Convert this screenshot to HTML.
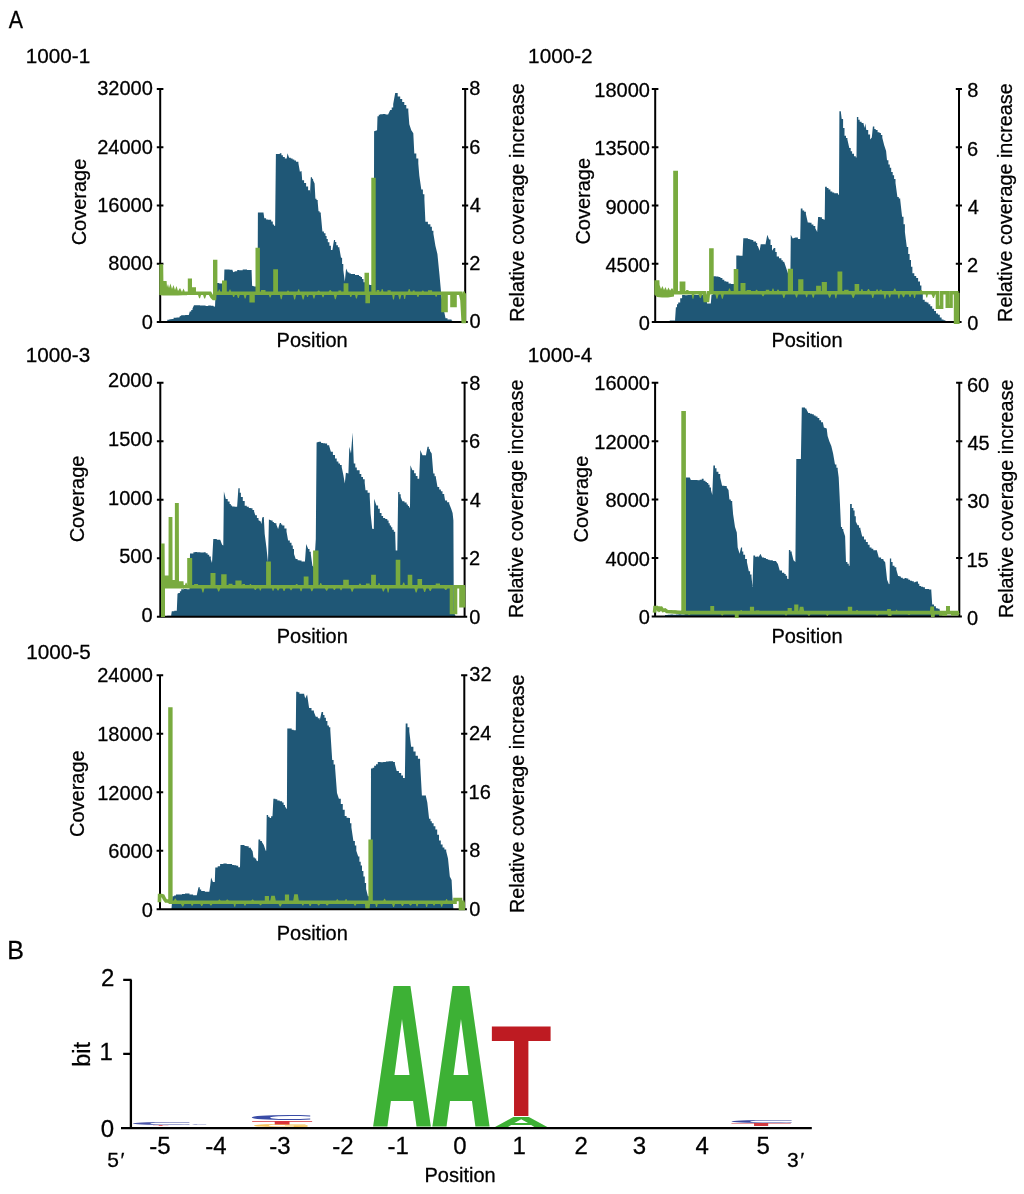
<!DOCTYPE html>
<html><head><meta charset="utf-8"><title>Coverage figure</title>
<style>
html,body{margin:0;padding:0;background:#fff;}
body{width:1024px;height:1194px;overflow:hidden;}
svg{display:block;}
text{font-family:"Liberation Sans",Arial,Helvetica,sans-serif;fill:#000;stroke:#000;stroke-width:0.28px;}
</style></head><body>
<svg width="1024" height="1194" viewBox="0 0 1024 1194">
<rect width="1024" height="1194" fill="#fff"/>
<path d="M164.5,322.1 L165.2,321.4 L167.3,321.4 L167.3,319.8 L169.4,319.8 L169.4,319.3 L171.5,319.3 L171.5,319.0 L173.6,319.0 L173.6,317.8 L176.5,317.8 L176.5,317.5 L179.4,317.5 L179.4,316.7 L181.5,315.2 L185.2,315.2 L185.2,314.9 L188.8,314.9 L188.8,315.0 L189.8,311.5 L191.2,311.5 L191.2,309.9 L192.5,309.9 L192.5,308.4 L194.0,305.2 L197.0,305.2 L197.0,305.3 L200.0,305.3 L200.0,305.5 L203.0,305.5 L203.0,305.5 L205.6,305.5 L205.6,305.9 L208.2,305.9 L208.2,305.6 L210.8,305.6 L210.8,305.7 L213.4,305.7 L213.4,306.3 L215.0,306.8 L215.5,295.3 L216.5,283.0 L219.2,283.0 L219.2,283.5 L221.8,283.5 L221.8,283.5 L224.0,284.0 L224.4,269.6 L227.0,269.6 L227.0,269.5 L229.6,269.5 L229.6,269.8 L232.2,269.8 L232.2,269.6 L233.3,272.2 L235.4,271.2 L237.2,271.2 L237.2,270.1 L239.1,270.1 L239.1,270.3 L240.9,270.3 L240.9,270.3 L242.7,270.3 L242.7,269.6 L247.0,269.6 L247.0,270.0 L251.6,270.0 L251.6,271.2 L252.1,285.8 L254.7,286.4 L257.6,286.4 L257.9,212.6 L260.7,212.6 L260.7,212.5 L263.5,212.5 L263.5,212.8 L264.3,218.2 L266.1,218.2 L266.1,219.4 L267.9,219.4 L267.9,219.8 L269.7,219.8 L269.7,219.8 L271.2,219.8 L271.2,221.4 L272.8,221.4 L272.8,224.4 L274.0,224.4 L274.0,225.7 L275.1,225.7 L275.1,228.3 L275.9,153.9 L279.8,153.9 L279.8,153.2 L281.4,153.2 L281.4,155.2 L282.9,155.2 L282.9,157.0 L284.8,157.0 L284.8,158.4 L286.7,158.4 L286.7,158.6 L287.5,153.2 L289.1,157.8 L290.8,157.8 L290.8,158.6 L292.6,158.6 L292.6,159.4 L294.3,159.4 L294.3,160.6 L296.0,160.6 L296.0,161.7 L297.2,161.7 L297.2,161.8 L298.4,161.8 L298.4,163.2 L299.9,171.7 L301.5,171.0 L302.2,180.3 L304.1,180.3 L304.1,183.0 L306.1,183.0 L306.1,186.5 L308.1,186.5 L308.1,190.3 L310.0,190.3 L310.0,194.2 L310.8,177.2 L312.0,177.2 L312.0,178.7 L313.1,178.7 L313.1,180.3 L314.6,183.4 L315.4,198.8 L316.5,198.8 L316.5,200.0 L317.7,200.0 L317.7,202.0 L318.5,211.2 L319.6,211.2 L319.6,212.4 L320.8,212.4 L320.8,214.3 L322.4,231.4 L323.9,231.4 L323.9,233.3 L325.5,233.3 L325.5,236.0 L326.6,236.0 L326.6,239.0 L327.8,239.0 L327.8,242.2 L329.4,242.2 L329.4,245.8 L330.9,245.8 L330.9,250.0 L332.4,250.0 L334.0,239.9 L335.1,239.9 L335.1,241.9 L336.3,241.9 L336.3,245.3 L337.9,245.3 L337.9,247.3 L339.4,247.3 L339.4,248.4 L341.0,257.7 L342.1,257.7 L342.1,264.0 L343.3,264.0 L343.3,270.1 L344.8,281.7 L346.1,268.5 L347.9,272.4 L349.4,272.4 L349.4,273.4 L351.0,273.4 L351.0,274.0 L355.0,274.0 L355.0,275.0 L359.0,275.0 L359.0,276.0 L360.5,276.0 L360.5,277.1 L362.0,277.1 L362.0,279.0 L363.5,279.0 L363.5,282.2 L365.0,282.2 L365.0,284.0 L367.5,284.0 L367.5,284.8 L370.0,284.8 L370.0,285.0 L373.8,285.0 L373.8,285.0 L374.1,131.2 L377.1,130.2 L377.5,116.2 L378.8,116.2 L378.8,114.7 L380.1,114.7 L380.1,114.2 L382.8,114.2 L382.8,114.1 L385.5,114.1 L385.5,114.4 L388.2,114.4 L388.2,114.2 L390.2,110.1 L391.7,110.1 L391.7,107.4 L393.2,107.4 L393.2,104.1 L395.2,93.0 L397.7,93.0 L397.7,96.6 L400.2,96.6 L400.2,99.0 L402.2,99.0 L402.2,101.9 L404.3,101.9 L404.3,105.1 L406.3,105.1 L406.3,108.6 L408.3,108.6 L408.3,111.1 L409.3,124.2 L411.3,130.2 L413.3,133.3 L414.3,153.4 L416.3,153.4 L416.3,158.6 L418.3,158.6 L418.3,163.4 L419.3,175.5 L421.3,189.5 L422.9,189.5 L422.9,194.3 L424.4,194.3 L424.4,199.6 L425.4,221.7 L427.9,221.7 L427.9,224.3 L430.4,224.3 L430.4,226.7 L431.9,226.7 L431.9,230.8 L433.4,230.8 L433.4,233.8 L435.4,245.8 L437.4,253.9 L439.4,274.0 L441.4,296.1 L443.5,308.2 L445.5,318.2 L447.5,318.2 L447.5,319.4 L449.5,319.4 L449.5,319.5 L451.5,319.5 L451.5,320.2 L453.5,321.8 L454.0,322.1 Z" fill="#1f5776"/>
<path d="M661.0,322.0 L662.7,321.2 L666.2,321.2 L666.2,321.2 L669.7,321.2 L669.7,320.4 L672.4,320.4 L672.4,320.4 L675.1,320.4 L675.1,319.6 L675.9,307.3 L677.0,307.3 L677.0,304.3 L678.2,304.3 L678.2,302.6 L680.2,302.6 L680.2,298.2 L682.1,298.2 L682.1,294.9 L684.8,294.9 L684.8,295.2 L687.5,295.2 L687.5,295.1 L690.2,295.1 L690.2,295.1 L692.9,295.1 L692.9,294.8 L695.7,294.8 L695.7,295.0 L698.4,295.0 L698.4,295.1 L701.1,295.1 L701.1,295.0 L703.8,295.0 L703.8,294.7 L706.5,294.7 L706.5,295.0 L707.0,303.5 L710.8,303.5 L710.8,303.5 L711.5,295.0 L712.6,295.0 L713.1,276.3 L715.8,276.3 L715.8,276.6 L718.5,276.6 L718.5,277.1 L720.4,277.1 L720.4,278.1 L722.4,278.1 L722.4,279.7 L724.3,279.7 L724.3,281.2 L726.2,281.2 L726.2,281.7 L728.5,281.7 L728.5,283.5 L730.9,283.5 L730.9,284.0 L734.0,284.0 L734.0,284.8 L735.1,284.8 L735.1,270.2 L736.3,270.2 L736.3,255.4 L739.4,255.4 L739.4,255.8 L742.5,255.8 L742.5,256.2 L743.3,238.3 L747.9,238.3 L747.9,239.1 L749.7,239.1 L749.7,239.5 L751.5,239.5 L751.5,240.0 L753.3,240.0 L753.3,241.4 L755.0,241.4 L756.1,241.4 L756.1,243.1 L757.2,243.1 L757.2,246.1 L757.8,246.1 L759.7,250.8 L760.7,244.2 L765.4,244.2 L765.4,245.1 L767.3,234.8 L769.1,239.5 L770.5,239.5 L770.5,245.1 L772.0,245.1 L772.0,250.8 L773.9,248.0 L775.3,248.0 L775.3,252.0 L776.7,252.0 L776.7,256.5 L779.0,256.5 L779.0,258.2 L781.4,258.2 L781.4,260.2 L782.8,260.2 L782.8,261.7 L784.2,261.7 L784.2,262.1 L786.1,267.8 L788.0,273.4 L790.4,273.4 L790.8,234.8 L792.7,238.5 L795.5,237.6 L797.9,237.6 L797.9,239.0 L800.2,239.0 L800.2,240.4 L800.8,208.4 L802.5,208.4 L802.5,210.4 L804.2,210.4 L804.2,211.8 L805.9,211.8 L805.9,214.0 L807.8,222.5 L809.6,222.5 L809.6,222.8 L811.5,222.8 L811.5,224.4 L813.4,224.4 L813.4,226.1 L815.3,226.1 L815.3,228.2 L817.2,232.0 L818.1,216.9 L820.0,216.9 L820.0,217.3 L821.9,217.3 L821.9,218.8 L824.7,219.7 L825.1,186.7 L826.8,186.7 L826.8,188.1 L828.5,188.1 L828.5,189.5 L830.4,189.5 L830.4,191.6 L832.3,191.6 L832.3,192.4 L834.2,192.4 L834.2,193.3 L836.1,193.3 L836.1,193.2 L838.0,193.2 L838.0,194.3 L839.0,195.0 L839.4,111.3 L840.8,111.3 L841.7,118.9 L843.1,118.9 L843.1,127.9 L844.5,127.9 L844.5,135.8 L846.0,135.8 L846.0,138.1 L847.4,138.1 L847.4,139.6 L849.3,148.1 L850.7,148.1 L850.7,151.2 L852.1,151.2 L852.1,153.7 L854.0,153.7 L854.0,156.2 L855.8,156.2 L855.8,157.5 L856.5,157.5 L856.9,117.0 L858.3,117.0 L858.3,119.7 L859.7,119.7 L859.7,121.7 L861.6,121.7 L861.6,123.0 L863.5,123.0 L863.5,123.5 L864.5,128.0 L865.3,123.5 L866.3,130.1 L868.2,130.1 L868.2,134.6 L870.1,134.6 L870.1,139.6 L871.8,137.5 L872.9,126.4 L874.3,126.4 L874.3,128.9 L875.7,128.9 L875.7,130.1 L877.6,130.1 L877.6,132.2 L879.5,132.2 L879.5,133.0 L880.9,133.0 L880.9,134.9 L882.3,134.9 L882.3,137.7 L884.2,145.2 L886.1,150.9 L887.0,160.3 L888.4,160.3 L888.4,164.4 L889.8,164.4 L889.8,167.8 L891.2,167.8 L891.2,171.9 L892.7,171.9 L892.7,175.3 L894.1,175.3 L894.1,179.0 L895.5,179.0 L895.5,182.9 L897.4,197.0 L898.8,197.0 L898.8,198.4 L900.2,198.4 L900.2,199.8 L902.1,216.8 L903.5,216.8 L903.5,224.3 L904.9,224.3 L904.9,231.9 L906.8,246.9 L908.2,246.9 L908.2,254.1 L909.6,254.1 L909.6,260.1 L911.0,260.1 L911.0,266.7 L912.4,266.7 L912.4,273.3 L914.3,273.3 L914.3,276.1 L916.2,276.1 L916.2,278.0 L918.1,278.0 L918.1,281.5 L920.0,281.5 L920.0,285.5 L921.4,285.5 L921.4,293.1 L922.8,293.1 L922.8,299.7 L924.7,299.7 L924.7,301.7 L926.6,301.7 L926.6,302.5 L928.5,302.5 L928.5,304.3 L930.3,304.3 L930.3,306.3 L932.2,306.3 L932.2,308.7 L934.1,308.7 L934.1,311.0 L936.0,311.0 L936.0,313.4 L937.9,313.4 L937.9,314.7 L939.8,314.7 L939.8,317.4 L941.6,317.4 L941.6,319.4 L943.5,319.4 L943.5,320.3 L945.4,320.3 L945.4,321.3 L947.0,322.0 Z" fill="#1f5776"/>
<path d="M165.5,616.9 L167.4,615.7 L171.2,615.7 L171.2,615.1 L171.8,611.3 L174.3,611.3 L174.3,610.8 L176.8,610.8 L176.8,610.7 L177.5,593.7 L178.7,593.1 L179.9,593.1 L179.9,591.3 L181.2,591.3 L181.2,589.3 L184.0,589.3 L184.0,589.1 L186.7,589.1 L186.7,589.2 L189.5,589.2 L189.5,589.0 L190.0,553.5 L191.7,553.5 L191.7,553.4 L193.4,553.4 L193.4,552.3 L195.2,552.3 L195.2,551.9 L196.9,551.9 L196.9,552.3 L200.4,552.3 L200.4,552.6 L203.8,552.6 L203.8,552.3 L205.7,552.3 L205.7,553.2 L207.6,553.2 L207.6,554.8 L209.2,554.8 L209.2,556.6 L210.8,556.6 L210.8,559.2 L212.0,562.9 L213.3,539.1 L216.8,539.1 L216.8,539.8 L220.2,539.8 L220.2,539.7 L222.1,544.7 L223.3,545.4 L223.9,491.4 L225.8,498.9 L227.7,498.9 L227.7,501.4 L229.6,501.4 L229.6,503.9 L230.8,503.9 L230.8,505.6 L232.1,505.6 L232.1,506.4 L234.6,506.4 L234.6,506.7 L237.1,506.7 L237.1,507.0 L238.4,488.2 L239.7,488.2 L239.7,492.8 L240.9,492.8 L240.9,497.0 L242.8,497.0 L242.8,500.9 L244.7,500.9 L244.7,505.8 L246.8,505.8 L246.8,506.8 L248.8,506.8 L248.8,508.0 L250.9,508.0 L250.9,508.3 L252.5,508.3 L252.5,509.9 L254.1,509.9 L254.1,511.4 L255.3,515.2 L256.9,515.2 L256.9,518.0 L258.5,518.0 L258.5,520.2 L260.5,521.3 L261.5,524.0 L262.2,517.7 L263.0,517.1 L263.8,517.1 L264.7,533.9 L266.4,547.3 L268.0,562.4 L268.9,519.6 L271.4,520.5 L272.6,520.5 L272.6,522.0 L273.9,522.0 L273.9,523.0 L275.1,523.0 L275.1,523.2 L276.4,523.2 L276.4,524.7 L278.1,528.9 L279.8,523.0 L281.1,523.0 L281.1,524.6 L282.3,524.6 L282.3,525.5 L284.4,525.5 L284.4,528.6 L286.5,528.6 L286.5,531.4 L288.1,540.6 L289.8,540.6 L289.8,542.8 L291.5,542.8 L291.5,545.6 L292.8,545.6 L292.8,549.1 L294.0,549.1 L294.0,554.0 L295.7,559.0 L297.6,559.0 L297.6,560.3 L299.6,560.3 L299.6,560.6 L301.5,560.6 L301.5,561.5 L304.9,561.5 L304.9,562.4 L306.2,543.9 L308.2,549.0 L309.5,549.0 L309.5,551.8 L310.8,551.8 L310.8,554.0 L312.4,565.7 L314.1,567.4 L315.8,538.9 L316.6,442.6 L319.1,441.8 L321.1,441.8 L321.1,442.9 L323.0,442.9 L323.0,443.2 L325.0,443.2 L325.0,443.4 L327.1,443.4 L327.1,445.3 L329.2,445.3 L329.2,446.0 L330.9,451.8 L332.9,451.8 L332.9,455.0 L335.0,455.0 L335.0,458.5 L336.7,458.5 L336.7,461.4 L338.4,461.4 L338.4,463.5 L340.0,463.5 L340.0,465.1 L341.7,465.1 L341.7,466.9 L343.4,475.3 L344.8,483.6 L345.9,472.8 L348.4,473.6 L349.3,446.8 L351.0,453.5 L352.6,432.6 L353.8,463.5 L355.3,463.5 L355.3,467.5 L356.8,467.5 L356.8,470.2 L358.0,470.2 L359.6,470.2 L359.6,474.1 L361.3,474.1 L361.3,476.9 L363.0,476.9 L363.0,479.3 L364.7,479.3 L364.7,482.8 L365.5,490.3 L367.6,490.3 L367.6,492.7 L369.7,492.7 L369.7,496.2 L370.6,513.8 L372.2,528.8 L373.8,529.0 L374.2,498.7 L376.4,505.4 L378.1,505.4 L378.1,508.8 L379.8,508.8 L379.8,512.9 L381.5,512.9 L381.5,516.1 L383.1,516.1 L383.1,517.9 L385.2,517.9 L385.2,519.1 L387.3,519.1 L387.3,520.5 L388.6,520.5 L388.6,523.2 L389.8,523.2 L389.8,525.5 L391.1,525.5 L391.1,527.3 L392.3,527.3 L392.3,529.7 L393.8,529.7 L393.8,531.8 L395.2,531.8 L395.2,533.8 L395.7,550.6 L397.3,550.6 L398.2,492.0 L399.4,492.0 L399.4,494.3 L400.7,494.3 L400.7,497.0 L402.4,501.2 L404.5,501.2 L404.5,502.6 L406.6,502.6 L406.6,504.5 L407.9,504.5 L407.9,505.9 L409.1,505.9 L409.1,507.1 L410.0,508.0 L410.4,465.2 L412.4,470.2 L414.1,470.2 L414.1,473.3 L415.8,473.3 L415.8,476.1 L417.5,476.1 L417.5,478.8 L419.1,478.8 L419.1,480.3 L420.3,450.1 L422.5,455.2 L425.8,455.2 L425.8,456.0 L427.5,446.8 L428.8,446.8 L428.8,449.2 L430.0,449.2 L430.0,451.0 L431.7,453.5 L433.3,473.6 L434.6,473.6 L434.6,476.3 L435.9,476.3 L435.9,477.8 L437.5,487.0 L439.2,487.0 L439.2,489.6 L440.9,489.6 L440.9,491.2 L442.5,491.2 L442.5,493.9 L444.2,493.9 L444.2,495.3 L445.1,500.4 L447.1,500.4 L447.1,502.3 L449.2,502.3 L449.2,503.7 L450.9,507.9 L452.6,512.9 L453.4,520.5 L453.8,612.5 L455.1,615.0 L456.0,616.9 Z" fill="#1f5776"/>
<path d="M665.0,616.5 L665.0,615.0 L667.7,615.0 L667.7,614.7 L670.4,614.7 L670.4,614.5 L673.1,614.5 L673.1,614.7 L675.9,614.7 L675.9,614.4 L678.6,614.4 L678.6,614.3 L681.3,614.3 L681.3,614.5 L684.0,614.5 L684.0,614.5 L685.5,614.0 L685.8,477.4 L689.8,477.4 L689.8,477.4 L690.8,480.1 L695.4,480.1 L695.4,480.1 L697.5,480.1 L697.5,480.3 L699.7,480.3 L699.7,479.7 L701.8,479.7 L701.8,478.8 L703.6,478.8 L703.6,480.8 L705.5,480.8 L705.5,482.0 L706.9,482.0 L706.9,483.0 L708.3,483.0 L708.3,484.7 L709.6,484.7 L709.6,487.6 L711.0,487.6 L711.0,490.3 L712.3,494.9 L713.4,465.4 L715.0,465.4 L715.0,468.3 L716.5,468.3 L716.5,471.8 L718.4,471.8 L718.4,474.1 L720.2,474.1 L720.2,477.4 L722.1,485.7 L724.4,485.7 L724.4,486.0 L726.7,486.0 L726.7,487.5 L728.5,490.0 L729.4,499.5 L730.8,499.5 L730.8,500.9 L732.2,500.9 L732.2,503.1 L733.1,514.2 L735.0,527.1 L736.8,532.6 L737.7,547.4 L739.6,553.8 L741.0,547.4 L742.1,547.4 L742.1,551.6 L743.3,551.6 L743.3,554.7 L745.1,554.7 L745.1,558.9 L746.9,558.9 L746.9,562.1 L748.8,571.3 L750.1,571.3 L750.1,574.5 L751.5,574.5 L751.5,576.8 L752.5,587.0 L753.4,555.6 L755.1,555.6 L755.1,556.7 L756.8,556.7 L756.8,556.4 L758.5,556.4 L758.5,557.5 L760.4,553.8 L762.2,557.5 L764.1,557.5 L764.1,557.9 L765.9,557.9 L765.9,559.0 L767.8,559.0 L767.8,559.8 L769.6,559.8 L769.6,560.2 L772.8,560.2 L772.8,561.0 L776.0,561.0 L776.0,561.2 L777.9,563.9 L779.7,570.4 L782.0,570.4 L782.0,572.8 L784.3,572.8 L784.3,574.1 L785.7,574.1 L785.7,575.8 L787.1,575.8 L787.1,578.7 L788.5,579.0 L788.9,550.1 L790.3,550.1 L790.3,551.6 L791.7,551.6 L791.7,552.9 L793.5,560.2 L795.4,562.1 L796.3,458.9 L800.9,458.9 L800.9,458.9 L801.8,407.4 L803.7,407.4 L805.0,407.4 L805.0,408.5 L806.4,408.5 L806.4,409.2 L808.3,412.9 L810.1,412.9 L810.1,413.8 L812.0,413.8 L812.0,414.3 L813.8,414.3 L813.8,415.6 L815.6,415.6 L815.6,416.6 L817.5,416.6 L817.5,417.9 L819.3,417.9 L819.3,420.3 L821.1,420.3 L821.1,422.3 L823.0,422.3 L823.0,423.0 L823.9,427.6 L826.7,428.6 L827.6,435.9 L829.4,441.4 L831.3,446.0 L833.1,453.4 L835.0,464.5 L836.4,464.5 L836.4,467.8 L837.7,467.8 L837.7,470.0 L838.7,477.4 L839.6,495.8 L841.0,527.1 L842.1,527.1 L842.1,529.0 L843.3,529.0 L843.3,530.8 L845.1,536.3 L846.0,562.1 L847.4,562.1 L847.4,563.7 L848.8,563.7 L848.8,565.8 L849.6,565.8 L850.1,504.1 L851.8,504.1 L851.8,507.9 L853.4,507.9 L853.4,510.5 L854.6,510.5 L854.6,516.2 L855.8,516.2 L855.8,521.6 L857.6,525.3 L859.0,525.3 L859.0,527.7 L860.4,527.7 L860.4,529.0 L862.2,536.4 L864.0,536.4 L864.0,539.6 L865.9,539.6 L865.9,541.9 L867.8,541.9 L867.8,544.7 L869.6,544.7 L869.6,547.4 L871.5,547.4 L871.5,548.7 L873.3,548.7 L873.3,550.2 L877.0,550.2 L877.0,551.1 L878.8,557.5 L881.1,557.5 L881.1,559.0 L883.4,559.0 L883.4,560.3 L885.2,562.2 L887.1,579.7 L888.9,584.3 L889.5,584.0 L889.9,558.5 L891.2,558.5 L891.2,562.1 L892.6,562.1 L892.6,565.8 L894.5,565.8 L894.5,567.2 L896.3,567.2 L896.3,569.5 L898.1,576.0 L899.5,576.0 L899.5,576.6 L900.9,576.6 L900.9,577.8 L902.8,577.8 L902.8,578.7 L904.6,578.7 L904.6,578.1 L906.4,578.1 L906.4,578.6 L908.3,578.6 L908.3,579.7 L910.1,579.7 L910.1,580.8 L912.0,580.8 L912.0,581.2 L913.8,581.2 L913.8,582.4 L916.6,581.5 L918.0,581.5 L918.0,583.8 L919.3,583.8 L919.3,586.1 L921.1,586.1 L921.1,586.8 L923.0,586.8 L923.0,587.3 L924.9,587.3 L924.9,588.9 L926.7,588.9 L926.7,588.9 L929.0,588.9 L929.0,589.4 L931.3,589.4 L931.3,590.7 L932.2,604.5 L934.0,604.5 L934.0,606.2 L935.9,606.2 L935.9,608.2 L937.8,608.2 L937.8,608.7 L939.6,608.7 L939.6,610.1 L941.4,614.7 L943.0,616.5 Z" fill="#1f5776"/>
<path d="M171.3,909.3 L171.5,908.9 L172.4,896.3 L174.2,896.3 L174.2,895.6 L176.0,895.6 L176.0,894.5 L179.0,894.5 L179.0,894.4 L182.0,894.4 L182.0,894.1 L185.0,894.1 L185.0,893.6 L189.5,893.6 L189.5,894.5 L193.1,894.5 L193.1,895.3 L196.7,895.3 L196.7,895.4 L198.5,887.3 L199.8,887.3 L199.8,889.4 L201.2,889.4 L201.2,890.9 L204.8,890.9 L204.8,891.8 L209.3,891.8 L209.3,891.8 L210.2,885.5 L211.1,877.4 L212.9,881.9 L214.8,882.0 L215.3,867.5 L217.7,867.5 L217.7,866.3 L220.1,866.3 L220.1,863.9 L223.4,863.9 L223.4,863.5 L226.7,863.5 L226.7,863.9 L230.0,863.9 L230.0,863.9 L232.1,863.9 L232.1,865.1 L234.2,865.1 L234.2,865.3 L236.3,865.3 L236.3,865.7 L238.2,865.7 L238.2,867.2 L240.0,867.2 L240.0,867.5 L240.5,845.0 L244.5,845.0 L244.5,845.9 L246.6,845.9 L246.6,846.3 L248.7,846.3 L248.7,847.7 L250.8,847.7 L250.8,848.6 L252.6,851.3 L253.5,857.6 L254.8,857.6 L254.8,858.6 L256.2,858.6 L256.2,860.3 L258.0,861.2 L258.5,839.6 L260.2,839.6 L260.2,840.9 L261.9,840.9 L261.9,842.0 L263.8,844.9 L265.7,850.7 L266.2,850.7 L266.7,815.1 L268.1,815.1 L268.1,816.7 L269.6,816.7 L269.6,818.0 L271.1,818.0 L271.1,816.3 L272.5,816.3 L272.5,816.0 L273.4,798.7 L275.4,798.7 L275.4,799.3 L277.3,799.3 L277.3,800.6 L279.7,800.6 L279.7,801.2 L282.1,801.2 L282.1,802.5 L283.6,802.5 L283.6,805.0 L285.0,805.0 L285.0,806.4 L286.9,809.3 L287.3,728.4 L289.8,728.4 L291.7,728.4 L291.7,729.7 L293.6,729.7 L293.6,730.3 L295.8,730.3 L296.2,691.7 L297.8,691.7 L297.8,692.2 L299.4,692.2 L299.4,693.7 L304.2,693.7 L304.2,694.6 L305.2,698.5 L307.1,694.6 L309.1,708.1 L311.5,708.1 L311.5,710.5 L313.9,710.5 L313.9,712.0 L315.8,716.8 L317.8,716.8 L317.8,718.2 L319.7,718.2 L319.7,720.6 L321.6,712.0 L323.1,712.0 L323.1,715.1 L324.5,715.1 L324.5,717.8 L325.9,717.8 L325.9,721.1 L327.4,721.1 L327.4,725.5 L328.9,725.5 L328.9,727.2 L330.3,727.2 L330.3,730.3 L332.2,760.1 L333.6,760.1 L333.6,764.5 L335.1,764.5 L335.1,767.9 L337.0,792.9 L338.9,798.7 L340.8,798.7 L340.8,804.1 L342.8,804.1 L342.8,809.8 L344.7,809.8 L344.7,816.0 L346.6,816.0 L346.6,817.7 L348.6,817.7 L348.6,818.0 L350.0,818.0 L350.0,823.3 L351.4,823.3 L351.4,827.6 L353.4,841.1 L354.9,841.1 L354.9,845.6 L356.3,845.6 L356.3,850.7 L358.2,856.5 L359.4,856.5 L359.4,861.7 L360.7,861.7 L360.7,865.6 L362.0,865.6 L362.0,871.1 L363.4,871.1 L363.4,876.4 L364.8,876.4 L364.8,882.9 L366.1,882.9 L366.1,889.0 L367.9,896.2 L369.2,896.2 L369.2,896.7 L370.6,896.7 L370.6,898.0 L371.0,768.4 L372.6,768.4 L372.6,767.7 L374.2,767.7 L374.2,765.7 L376.0,765.7 L376.0,764.2 L377.8,764.2 L377.8,762.1 L380.5,762.1 L380.5,762.3 L383.2,762.3 L383.2,762.1 L385.9,762.1 L385.9,761.4 L388.6,761.4 L388.6,761.3 L391.3,761.3 L391.3,761.2 L393.1,761.2 L393.1,762.1 L394.9,762.1 L394.9,763.9 L396.7,771.1 L398.9,771.1 L398.9,772.9 L401.2,772.9 L401.2,775.6 L403.0,775.6 L403.0,778.1 L404.8,778.1 L404.8,781.9 L405.7,723.4 L407.5,723.4 L407.5,727.2 L409.3,727.2 L409.3,731.5 L411.1,746.8 L413.4,746.8 L413.4,751.4 L415.6,751.4 L415.6,755.8 L417.9,755.8 L417.9,758.7 L420.1,758.7 L420.1,763.0 L421.9,795.4 L425.5,795.4 L425.5,794.5 L427.3,802.6 L429.1,818.8 L430.5,818.8 L430.5,821.3 L431.8,821.3 L431.8,823.3 L433.6,823.3 L433.6,826.2 L435.4,826.2 L435.4,829.6 L437.2,829.6 L437.2,834.7 L439.0,834.7 L439.0,840.4 L440.8,840.4 L440.8,844.4 L442.6,844.4 L442.6,847.6 L444.4,847.6 L444.4,849.4 L446.2,849.4 L446.2,851.2 L448.0,858.4 L449.8,876.4 L451.6,880.0 L452.5,898.0 L453.4,908.8 L454.0,909.3 Z" fill="#1f5776"/>
<path d="M160.20,88.90V322.10M465.20,88.90V322.10M156.80,322.10H467.80M156.80,88.90H163.40M462.00,88.90H468.20M156.80,147.20H163.40M462.00,147.20H468.20M156.80,205.50H163.40M462.00,205.50H468.20M156.80,263.80H163.40M462.00,263.80H468.20" stroke="#000" stroke-width="2" fill="none"/><path d="M655.20,88.90V322.00M959.00,88.90V322.00M651.80,322.00H961.60M651.80,88.90H658.40M955.80,88.90H962.00M651.80,147.18H658.40M955.80,147.18H962.00M651.80,205.45H658.40M955.80,205.45H962.00M651.80,263.73H658.40M955.80,263.73H962.00" stroke="#000" stroke-width="2" fill="none"/><path d="M160.30,382.80V616.85M464.60,382.80V616.85M156.90,616.85H467.20M156.90,382.80H163.50M461.40,382.80H467.60M156.90,441.31H163.50M461.40,441.31H467.60M156.90,499.83H163.50M461.40,499.83H467.60M156.90,558.34H163.50M461.40,558.34H467.60" stroke="#000" stroke-width="2" fill="none"/><path d="M655.10,382.70V616.50M959.30,382.70V616.50M651.70,616.50H961.90M651.70,382.70H658.30M956.10,382.70H962.30M651.70,441.15H658.30M956.10,441.15H962.30M651.70,499.60H658.30M956.10,499.60H962.30M651.70,558.05H658.30M956.10,558.05H962.30" stroke="#000" stroke-width="2" fill="none"/><path d="M160.00,675.20V909.30M464.30,675.20V909.30M156.60,909.30H466.90M156.60,675.20H163.20M461.10,675.20H467.30M156.60,733.73H163.20M461.10,733.73H467.30M156.60,792.25H163.20M461.10,792.25H467.30M156.60,850.77H163.20M461.10,850.77H467.30" stroke="#000" stroke-width="2" fill="none"/>
<path d="M159.3,295.0 L159.3,264.2 L163.2,264.2 L163.4,281.0 L166.6,281.0 L167.0,287.0 L168.0,284.0 L169.0,288.0 L170.5,283.5 L172.0,289.0 L173.5,285.0 L175.0,290.0 L176.5,286.0 L178.0,291.0 L180.0,288.0 L182.0,292.0 L183.5,288.5 L185.0,292.0 L187.0,292.0 L187.0,295.2 L183.0,295.3 L178.0,295.5 L173.0,295.6 L168.0,295.6 L163.0,295.5 Z" fill="#79ab3f"/>
<path d="M185.0,293.3 L189.6,293.3 L189.6,280.2 L190.2,280.2 L190.2,293.3 L191.6,293.3 L191.6,289.0 L194.2,289.0 L194.2,293.3 L210.0,293.3 L212.0,297.0 L213.5,298.5 L214.5,298.5 L214.8,293.3 L214.8,261.5 L215.6,261.5 L215.6,293.3 L223.8,293.3 L223.8,282.2 L225.0,282.2 L225.0,293.3 L251.2,293.3 L251.2,300.8 L253.0,300.8 L253.0,293.3 L257.3,293.3 L257.3,249.5 L258.1,249.5 L258.1,293.3 L275.0,293.3 L275.0,271.0 L276.2,271.0 L276.2,293.3 L345.4,293.3 L345.4,285.0 L346.6,285.0 L346.6,293.3 L366.3,293.3 L366.3,274.5 L367.2,274.5 L367.2,301.5 L368.2,301.5 L368.2,293.3 L373.1,293.3 L373.1,179.5 L373.9,179.5 L373.9,293.3 L443.0,293.3 L443.0,310.5 L446.0,310.5 L446.0,293.3 L452.0,293.3 L452.0,305.5 L455.0,305.5 L455.0,293.3 L460.5,293.3 L462.0,300.0 L463.2,321.5 L464.3,321.5 L464.3,293.3 L465.0,293.3" fill="none" stroke="#79ab3f" stroke-width="3.6" stroke-linejoin="miter" stroke-miterlimit="2"/><path d="M197.9,294.5 L199.1,298.2 L200.0,298.2 L201.2,294.5ZM202.9,294.5 L204.2,298.6 L205.1,298.6 L206.5,294.5ZM218.2,292.1 L218.9,289.4 L219.7,289.4 L220.5,292.1ZM228.8,292.1 L229.6,289.5 L230.4,289.5 L231.2,292.1ZM232.3,294.5 L233.2,296.9 L234.1,296.9 L235.0,294.5ZM236.8,294.5 L237.9,298.1 L238.8,298.1 L239.9,294.5ZM243.5,294.5 L244.7,298.6 L245.6,298.6 L246.7,294.5ZM261.0,292.1 L261.0,289.9 L265.5,289.9 L265.5,292.1ZM268.7,294.5 L269.7,297.4 L270.6,297.4 L271.6,294.5ZM279.7,294.5 L280.8,299.2 L281.7,299.2 L282.7,294.5ZM286.7,292.1 L287.6,290.6 L288.4,290.6 L289.2,292.1ZM293.1,294.5 L294.2,299.6 L295.1,299.6 L296.2,294.5ZM297.4,292.1 L298.3,289.3 L299.1,289.3 L300.0,292.1ZM301.3,294.5 L302.7,299.6 L303.6,299.6 L304.9,294.5ZM306.3,294.5 L307.1,297.0 L308.0,297.0 L308.8,294.5ZM312.4,294.5 L313.5,298.4 L314.4,298.4 L315.5,294.5ZM317.1,292.1 L318.3,290.4 L319.1,290.4 L320.2,292.1ZM321.6,294.5 L322.6,297.3 L323.5,297.3 L324.4,294.5ZM328.5,292.1 L329.8,290.1 L330.6,290.1 L331.9,292.1ZM333.6,294.5 L334.9,299.3 L335.8,299.3 L337.1,294.5ZM338.4,292.1 L338.4,290.6 L341.2,290.6 L341.2,292.1ZM349.5,294.5 L350.3,296.9 L351.2,296.9 L352.1,294.5ZM354.9,294.5 L356.0,298.5 L356.9,298.5 L357.9,294.5ZM376.6,292.1 L376.6,290.1 L379.3,290.1 L379.3,292.1ZM381.0,292.1 L381.8,289.0 L382.6,289.0 L383.5,292.1ZM387.5,292.1 L387.5,290.2 L390.7,290.2 L390.7,292.1ZM392.1,294.5 L393.0,299.6 L393.9,299.6 L394.9,294.5ZM398.1,294.5 L399.3,299.2 L400.2,299.2 L401.5,294.5ZM403.4,294.5 L404.2,298.9 L405.1,298.9 L405.9,294.5ZM407.7,292.1 L408.8,289.1 L409.6,289.1 L410.7,292.1ZM412.7,292.1 L412.7,290.6 L414.7,290.6 L414.7,292.1ZM416.6,294.5 L417.5,296.9 L418.4,296.9 L419.3,294.5ZM421.5,292.1 L422.4,290.4 L423.2,290.4 L424.2,292.1ZM428.0,292.1 L428.0,290.2 L432.1,290.2 L432.1,292.1ZM434.9,294.5 L435.7,296.8 L436.6,296.8 L437.4,294.5Z" fill="#79ab3f"/>
<path d="M654.3,294.5 L654.3,280.2 L659.4,280.2 L659.6,285.0 L661.0,289.0 L662.5,286.0 L664.0,290.0 L665.5,287.0 L667.0,290.5 L668.5,287.5 L670.0,290.5 L672.0,288.0 L674.0,291.0 L674.0,296.5 L668.0,297.5 L662.0,297.5 L657.0,297.0 Z" fill="#79ab3f"/>
<path d="M673.0,292.7 L675.0,292.7 L675.0,172.5 L676.2,172.5 L676.2,292.7 L681.4,292.7 L681.4,283.3 L683.6,283.3 L683.6,292.7 L704.3,292.7 L705.2,300.5 L707.6,300.5 L708.4,292.7 L710.9,292.7 L710.9,250.0 L711.9,250.0 L711.9,292.7 L735.5,292.7 L735.5,270.9 L736.5,270.9 L736.5,292.7 L742.3,292.7 L742.3,284.8 L743.7,284.8 L743.7,292.7 L789.6,292.7 L789.6,270.6 L791.2,270.6 L791.2,292.7 L800.0,292.7 L800.0,281.0 L801.6,281.0 L801.6,292.7 L817.9,292.7 L817.9,287.6 L819.1,287.6 L819.1,292.7 L823.5,292.7 L823.5,283.8 L825.1,283.8 L825.1,292.7 L839.3,292.7 L839.3,273.4 L840.5,273.4 L840.5,292.7 L856.4,292.7 L856.4,285.7 L857.4,285.7 L857.4,292.7 L937.5,292.7 L937.5,307.2 L941.6,307.2 L941.6,292.7 L947.3,292.7 L947.3,306.3 L951.0,306.3 L951.0,292.7 L955.6,292.7 L955.6,322.2 L957.8,322.2 L957.8,292.7 L958.6,292.7" fill="none" stroke="#79ab3f" stroke-width="3.6" stroke-linejoin="miter" stroke-miterlimit="2"/><path d="M686.1,291.5 L686.1,290.0 L688.5,290.0 L688.5,291.5ZM691.6,293.9 L692.5,298.8 L693.4,298.8 L694.3,293.9ZM698.4,293.9 L699.9,297.9 L700.8,297.9 L702.3,293.9ZM715.3,293.9 L716.5,298.7 L717.4,298.7 L718.7,293.9ZM720.7,293.9 L721.9,298.7 L722.8,298.7 L724.0,293.9ZM728.0,291.5 L729.1,288.4 L729.9,288.4 L731.0,291.5ZM746.5,291.5 L746.5,289.9 L750.9,289.9 L750.9,291.5ZM754.9,291.5 L756.2,289.7 L757.0,289.7 L758.3,291.5ZM761.4,293.9 L762.6,296.3 L763.5,296.3 L764.6,293.9ZM765.8,291.5 L765.8,289.7 L769.3,289.7 L769.3,291.5ZM771.6,291.5 L772.6,288.4 L773.4,288.4 L774.3,291.5ZM776.5,291.5 L777.6,289.5 L778.4,289.5 L779.5,291.5ZM782.2,293.9 L783.4,298.1 L784.3,298.1 L785.5,293.9ZM795.0,293.9 L796.1,297.4 L797.0,297.4 L798.0,293.9ZM805.3,293.9 L806.2,297.3 L807.1,297.3 L807.9,293.9ZM811.7,293.9 L812.8,297.7 L813.7,297.7 L814.7,293.9ZM827.8,293.9 L829.2,297.7 L830.1,297.7 L831.5,293.9ZM834.6,293.9 L835.4,298.2 L836.3,298.2 L837.1,293.9ZM844.1,291.5 L844.1,289.8 L848.6,289.8 L848.6,291.5ZM851.2,293.9 L852.8,297.9 L853.7,297.9 L855.2,293.9ZM860.5,291.5 L861.5,288.9 L862.3,288.9 L863.2,291.5ZM866.7,291.5 L868.1,289.0 L868.9,289.0 L870.2,291.5ZM871.3,293.9 L872.3,298.0 L873.2,298.0 L874.3,293.9ZM875.8,291.5 L876.7,289.3 L877.5,289.3 L878.4,291.5ZM879.6,291.5 L879.6,289.8 L881.9,289.8 L881.9,291.5ZM883.6,293.9 L884.5,298.7 L885.4,298.7 L886.3,293.9ZM888.2,293.9 L889.2,297.5 L890.1,297.5 L891.0,293.9ZM893.1,291.5 L894.4,288.4 L895.2,288.4 L896.5,291.5ZM897.6,293.9 L898.4,298.6 L899.3,298.6 L900.1,293.9ZM901.7,293.9 L903.1,297.3 L904.0,297.3 L905.3,293.9ZM908.6,293.9 L909.6,296.9 L910.5,296.9 L911.4,293.9ZM913.3,293.9 L914.1,298.1 L915.0,298.1 L915.9,293.9ZM919.7,291.5 L920.8,289.9 L921.6,289.9 L922.6,291.5ZM925.6,293.9 L926.3,297.6 L927.2,297.6 L928.0,293.9ZM931.4,293.9 L933.0,298.0 L933.9,298.0 L935.4,293.9Z" fill="#79ab3f"/>
<path d="M161.0,617.0 L161.0,543.5 L164.6,543.5 L164.8,575.5 L168.5,575.5 L168.6,517.1 L172.4,517.1 L172.6,580.0 L174.8,580.0 L174.9,502.9 L178.8,502.9 L179.0,581.2 L183.5,581.2 L184.0,588.5 L165.0,588.5 L165.0,617.0 Z" fill="#79ab3f"/>
<path d="M183.0,586.7 L189.0,586.7 L189.0,559.8 L190.4,559.8 L190.4,586.7 L212.3,586.7 L212.3,574.9 L213.7,574.9 L213.7,586.7 L223.0,586.7 L223.0,576.1 L224.8,576.1 L224.8,586.7 L237.2,586.7 L237.2,582.4 L239.8,582.4 L239.8,586.7 L267.9,586.7 L267.9,563.2 L269.1,563.2 L269.1,586.7 L305.5,586.7 L305.5,578.3 L306.7,578.3 L306.7,586.7 L314.9,586.7 L314.9,552.3 L316.7,552.3 L316.7,586.7 L345.0,586.7 L345.0,581.6 L347.0,581.6 L347.0,586.7 L372.9,586.7 L372.9,576.5 L374.1,576.5 L374.1,586.7 L397.5,586.7 L397.5,561.5 L398.5,561.5 L398.5,586.7 L409.5,586.7 L409.5,576.5 L410.5,576.5 L410.5,586.7 L419.3,586.7 L419.3,580.7 L420.3,580.7 L420.3,586.7 L451.5,586.7 L451.5,612.5 L455.5,612.5 L455.5,586.7 L461.0,586.7 L461.0,605.8 L463.6,605.8 L463.6,586.7 L465.0,586.7" fill="none" stroke="#79ab3f" stroke-width="3.6" stroke-linejoin="miter" stroke-miterlimit="2"/><path d="M184.8,585.5 L185.7,582.8 L186.5,582.8 L187.4,585.5ZM194.1,585.5 L194.1,584.0 L198.1,584.0 L198.1,585.5ZM201.3,587.9 L202.5,592.6 L203.4,592.6 L204.5,587.9ZM216.9,587.9 L218.2,591.6 L219.1,591.6 L220.5,587.9ZM228.5,585.5 L228.5,583.8 L232.5,583.8 L232.5,585.5ZM242.3,585.5 L242.3,584.0 L245.0,584.0 L245.0,585.5ZM249.1,585.5 L250.0,583.9 L250.8,583.9 L251.8,585.5ZM253.7,587.9 L254.9,590.0 L255.8,590.0 L256.9,587.9ZM259.1,587.9 L259.9,590.5 L260.8,590.5 L261.6,587.9ZM271.8,587.9 L272.6,590.8 L273.5,590.8 L274.3,587.9ZM276.3,587.9 L277.6,590.5 L278.5,590.5 L279.8,587.9ZM282.5,587.9 L283.6,590.9 L284.5,590.9 L285.7,587.9ZM289.5,587.9 L290.6,590.2 L291.5,590.2 L292.6,587.9ZM295.0,585.5 L296.3,583.9 L297.1,583.9 L298.5,585.5ZM299.6,587.9 L300.6,591.2 L301.5,591.2 L302.5,587.9ZM310.2,587.9 L311.4,591.3 L312.3,591.3 L313.6,587.9ZM319.3,585.5 L320.3,582.9 L321.1,582.9 L322.2,585.5ZM324.7,587.9 L326.2,590.7 L327.1,590.7 L328.5,587.9ZM332.9,587.9 L333.9,590.0 L334.8,590.0 L335.9,587.9ZM339.7,587.9 L340.6,590.3 L341.5,590.3 L342.4,587.9ZM350.4,587.9 L351.7,591.7 L352.6,591.7 L354.0,587.9ZM358.4,585.5 L359.6,583.4 L360.4,583.4 L361.7,585.5ZM365.9,585.5 L365.9,583.6 L369.7,583.6 L369.7,585.5ZM377.8,585.5 L378.6,582.9 L379.4,582.9 L380.3,585.5ZM381.7,587.9 L382.9,591.6 L383.8,591.6 L385.1,587.9ZM386.8,587.9 L387.7,592.6 L388.6,592.6 L389.4,587.9ZM402.1,585.5 L403.3,582.5 L404.1,582.5 L405.2,585.5ZM414.3,587.9 L415.7,592.5 L416.6,592.5 L418.0,587.9ZM422.9,587.9 L424.2,592.1 L425.1,592.1 L426.5,587.9ZM428.4,587.9 L429.8,591.0 L430.7,591.0 L432.1,587.9ZM435.7,585.5 L435.7,583.5 L440.0,583.5 L440.0,585.5ZM443.9,587.9 L445.3,590.0 L446.2,590.0 L447.7,587.9Z" fill="#79ab3f"/>
<path d="M654.5,612.6 L654.5,612.6 L655.0,607.5 L656.0,607.5 L657.0,607.5 L658.0,609.0 L659.0,607.0 L660.0,609.5 L661.5,608.5 L663.0,610.5 L665.0,610.0 L667.0,611.5 L683.1,612.6 L683.1,412.9 L684.1,412.9 L684.1,612.6 L712.1,612.6 L712.1,607.8 L712.4,607.8 L712.4,612.6 L736.6,612.6 L736.6,616.2 L736.9,616.2 L736.9,612.6 L751.7,612.6 L751.7,608.5 L752.3,608.5 L752.3,612.6 L789.4,612.6 L789.4,609.8 L790.0,609.8 L790.0,612.6 L796.0,612.6 L796.0,606.3 L796.6,606.3 L796.6,612.6 L800.6,612.6 L801.6,607.0 L802.6,612.6 L849.6,612.6 L849.6,608.6 L850.4,608.6 L850.4,612.6 L888.5,612.6 L889.0,609.2 L889.6,615.6 L890.2,612.6 L931.6,612.6 L932.2,606.6 L932.8,617.0 L933.4,612.6 L940.0,612.6 L941.0,615.0 L942.0,612.6 L944.0,612.6 L945.0,615.5 L946.0,612.6 L947.8,612.6 L947.8,607.8 L948.2,607.8 L948.2,612.6 L952.0,612.6 L953.0,615.0 L954.0,612.6 L956.0,612.6 L957.0,614.8 L958.0,612.6 L959.0,612.6" fill="none" stroke="#79ab3f" stroke-width="3.6" stroke-linejoin="miter" stroke-miterlimit="2"/><path d="M673.8,611.4 L673.8,610.4 L676.5,610.4 L676.5,611.4ZM687.5,613.8 L688.7,615.1 L689.6,615.1 L690.8,613.8ZM720.5,613.8 L721.8,615.4 L722.7,615.4 L724.0,613.8ZM740.0,611.4 L740.8,609.9 L741.6,609.9 L742.4,611.4ZM755.6,611.4 L755.6,610.4 L759.4,610.4 L759.4,611.4ZM784.4,613.8 L785.6,615.4 L786.5,615.4 L787.6,613.8ZM807.1,613.8 L808.5,615.7 L809.4,615.7 L810.8,613.8ZM825.6,613.8 L826.9,615.7 L827.8,615.7 L829.1,613.8ZM855.5,611.4 L856.6,609.9 L857.4,609.9 L858.6,611.4ZM875.3,613.8 L876.7,615.4 L877.6,615.4 L879.0,613.8ZM895.5,611.4 L896.2,609.7 L897.0,609.7 L897.7,611.4ZM907.1,613.8 L908.5,615.0 L909.4,615.0 L910.8,613.8Z" fill="#79ab3f"/>
<path d="M159.4,902.2 L159.4,902.2 L159.6,895.5 L161.0,895.5 L161.5,895.5 L163.0,896.0 L164.5,899.0 L166.0,901.0 L168.0,901.0 L170.0,902.2 L170.0,709.0 L170.8,709.0 L170.8,902.2 L266.6,902.2 L266.6,897.8 L267.2,897.8 L267.2,902.2 L271.8,902.2 L273.0,896.0 L274.3,902.2 L286.7,902.2 L286.7,896.4 L287.3,896.4 L287.3,902.2 L294.8,902.2 L296.0,894.6 L297.3,902.2 L366.5,902.2 L367.0,906.5 L368.0,906.5 L368.5,902.2 L370.2,902.2 L370.2,841.3 L371.0,841.3 L371.0,902.2 L455.0,902.2 L455.0,899.5 L460.5,899.5 L460.5,908.5 L463.2,908.5 L463.2,902.2 L464.5,902.2" fill="none" stroke="#79ab3f" stroke-width="3.6" stroke-linejoin="miter" stroke-miterlimit="2"/><path d="M173.7,901.0 L174.9,898.6 L175.7,898.6 L176.9,901.0ZM180.7,903.4 L182.3,906.5 L183.2,906.5 L184.7,903.4ZM190.7,903.4 L191.7,905.8 L192.6,905.8 L193.7,903.4ZM200.0,903.4 L201.3,906.1 L202.2,906.1 L203.4,903.4ZM209.2,903.4 L210.5,905.5 L211.4,905.5 L212.8,903.4ZM218.2,901.0 L219.0,899.6 L219.8,899.6 L220.7,901.0ZM225.7,901.0 L226.9,899.4 L227.7,899.4 L229.0,901.0ZM233.4,903.4 L234.3,906.7 L235.2,906.7 L236.0,903.4ZM243.6,903.4 L244.5,905.8 L245.4,905.8 L246.3,903.4ZM251.1,901.0 L252.2,899.4 L253.0,899.4 L254.1,901.0ZM258.8,903.4 L260.1,905.3 L261.0,905.3 L262.3,903.4ZM278.3,903.4 L279.8,906.6 L280.7,906.6 L282.1,903.4ZM301.5,903.4 L302.4,905.6 L303.3,905.6 L304.1,903.4ZM308.6,903.4 L309.7,906.0 L310.6,906.0 L311.7,903.4ZM317.0,903.4 L318.2,905.5 L319.1,905.5 L320.3,903.4ZM325.2,903.4 L326.7,905.6 L327.6,905.6 L329.1,903.4ZM335.9,901.0 L336.9,899.2 L337.7,899.2 L338.7,901.0ZM344.9,901.0 L345.7,898.9 L346.5,898.9 L347.2,901.0ZM353.5,903.4 L354.6,905.7 L355.5,905.7 L356.7,903.4ZM375.1,903.4 L376.1,906.9 L377.0,906.9 L377.9,903.4ZM383.2,901.0 L384.2,898.8 L385.0,898.8 L386.0,901.0ZM391.9,903.4 L393.1,907.0 L394.0,907.0 L395.2,903.4ZM400.7,903.4 L402.0,906.0 L402.9,906.0 L404.2,903.4ZM408.6,903.4 L410.1,905.4 L411.0,905.4 L412.4,903.4ZM415.7,903.4 L416.6,906.4 L417.5,906.4 L418.4,903.4ZM425.3,903.4 L426.2,906.9 L427.1,906.9 L428.0,903.4ZM432.5,903.4 L433.6,905.6 L434.5,905.6 L435.6,903.4ZM440.2,903.4 L441.2,906.7 L442.1,906.7 L443.1,903.4ZM445.4,901.0 L446.2,899.1 L447.0,899.1 L447.7,901.0Z" fill="#79ab3f"/>
<text x="0" y="0" transform="translate(372.63,1126.80) scale(0.7551,1.9204)" font-size="100" font-weight="bold" fill="#3db135" style="fill:#3db135;stroke:none;font-family:'DejaVu Sans', sans-serif">A</text><text x="0" y="0" transform="translate(432.03,1126.80) scale(0.7485,1.9204)" font-size="100" font-weight="bold" fill="#3db135" style="fill:#3db135;stroke:none;font-family:'DejaVu Sans', sans-serif">A</text><text x="0" y="0" transform="translate(490.68,1115.50) scale(0.9968,1.2922)" font-size="100" font-weight="bold" fill="#be1b22" style="fill:#be1b22;stroke:none;font-family:'Liberation Sans', sans-serif">T</text><text x="0" y="0" transform="translate(494.77,1126.80) scale(0.6831,0.1413)" font-size="100" font-weight="bold" fill="#3db135" style="fill:#3db135;stroke:none;font-family:'DejaVu Sans', sans-serif">A</text><text x="0" y="0" transform="translate(246.99,1119.91) scale(0.9450,0.0621)" font-size="100" font-weight="bold" fill="#3a4ca6" style="fill:#3a4ca6;stroke:none;font-family:'DejaVu Sans', sans-serif">C</text><text x="0" y="0" transform="translate(250.95,1124.60) scale(1.0223,0.0552)" font-size="100" font-weight="bold" fill="#d9343b" style="fill:#d9343b;stroke:none;font-family:'Liberation Sans', sans-serif">T</text><text x="0" y="0" transform="translate(249.82,1126.96) scale(0.7788,0.0304)" font-size="100" font-weight="bold" fill="#f5c25a" style="fill:#f5c25a;stroke:none;font-family:'DejaVu Sans', sans-serif">G</text><text x="0" y="0" transform="translate(128.35,1124.86) scale(0.9143,0.0278)" font-size="100" font-weight="bold" fill="#4a55a8" style="fill:#4a55a8;stroke:none;font-family:'DejaVu Sans', sans-serif">C</text><text x="0" y="0" transform="translate(152.70,1125.60) scale(0.2632,0.0131)" font-size="100" font-weight="bold" fill="#e06066" style="fill:#e06066;stroke:none;font-family:'Liberation Sans', sans-serif">T</text><text x="0" y="0" transform="translate(191.07,1125.38) scale(0.2274,0.0159)" font-size="100" font-weight="bold" fill="#9aa0d0" style="fill:#9aa0d0;stroke:none;font-family:'DejaVu Sans', sans-serif">C</text><text x="0" y="0" transform="translate(726.87,1122.55) scale(0.9692,0.0357)" font-size="100" font-weight="bold" fill="#3a47a0" style="fill:#3a47a0;stroke:none;font-family:'DejaVu Sans', sans-serif">C</text><text x="0" y="0" transform="translate(730.57,1125.60) scale(1.0070,0.0334)" font-size="100" font-weight="bold" fill="#d23a40" style="fill:#d23a40;stroke:none;font-family:'Liberation Sans', sans-serif">T</text><path d="M130.9,979.8V1128.1M123.2,979.9H131.5M123.2,1053.8H131.5M121.0,1128.1H811.8" stroke="#000" stroke-width="2.3" fill="none"/>
<text x="0" y="0" transform="translate(8.69,27.83) scale(0.87,1)" font-size="24.5" fill="#000">A</text><text x="0" y="0" transform="translate(7.25,958.50) scale(1.0,1)" font-size="25.0" fill="#000">B</text><text x="0" y="0" transform="translate(25.72,63.28) scale(1.0,1)" font-size="20.7" fill="#000">1000-1</text><text x="0" y="0" transform="translate(97.17,95.38) scale(1.0,1)" font-size="20.0" fill="#000">32000</text><text x="0" y="0" transform="translate(97.17,153.68) scale(1.0,1)" font-size="20.0" fill="#000">24000</text><text x="0" y="0" transform="translate(97.17,211.98) scale(1.0,1)" font-size="20.0" fill="#000">16000</text><text x="0" y="0" transform="translate(108.29,270.28) scale(1.0,1)" font-size="20.0" fill="#000">8000</text><text x="0" y="0" transform="translate(141.66,328.58) scale(1.0,1)" font-size="20.0" fill="#000">0</text><text x="0" y="0" transform="translate(469.33,95.28) scale(1.0,1)" font-size="20.0" fill="#000">8</text><text x="0" y="0" transform="translate(469.18,153.58) scale(1.0,1)" font-size="20.0" fill="#000">6</text><text x="0" y="0" transform="translate(469.74,211.88) scale(1.0,1)" font-size="20.0" fill="#000">4</text><text x="0" y="0" transform="translate(469.19,270.28) scale(1.0,1)" font-size="20.0" fill="#000">2</text><text x="0" y="0" transform="translate(469.42,328.48) scale(1.0,1)" font-size="20.0" fill="#000">0</text><text x="0" y="0" transform="translate(86.16,245.37) rotate(-90)" font-size="20.0">Coverage</text><text x="0" y="0" transform="translate(524.42,321.79) rotate(-90)" font-size="19.8">Relative coverage increase</text><text x="0" y="0" transform="translate(276.55,346.90) scale(1.0,1)" font-size="20.0" fill="#000">Position</text><text x="0" y="0" transform="translate(528.12,63.13) scale(1.0,1)" font-size="20.7" fill="#000">1000-2</text><text x="0" y="0" transform="translate(594.37,97.08) scale(1.0,1)" font-size="20.0" fill="#000">18000</text><text x="0" y="0" transform="translate(594.37,155.36) scale(1.0,1)" font-size="20.0" fill="#000">13500</text><text x="0" y="0" transform="translate(605.49,213.63) scale(1.0,1)" font-size="20.0" fill="#000">9000</text><text x="0" y="0" transform="translate(605.49,271.91) scale(1.0,1)" font-size="20.0" fill="#000">4500</text><text x="0" y="0" transform="translate(638.86,330.18) scale(1.0,1)" font-size="20.0" fill="#000">0</text><text x="0" y="0" transform="translate(967.23,97.28) scale(1.0,1)" font-size="20.0" fill="#000">8</text><text x="0" y="0" transform="translate(967.08,155.56) scale(1.0,1)" font-size="20.0" fill="#000">6</text><text x="0" y="0" transform="translate(967.64,213.83) scale(1.0,1)" font-size="20.0" fill="#000">4</text><text x="0" y="0" transform="translate(967.09,272.21) scale(1.0,1)" font-size="20.0" fill="#000">2</text><text x="0" y="0" transform="translate(967.32,330.38) scale(1.0,1)" font-size="20.0" fill="#000">0</text><text x="0" y="0" transform="translate(589.81,244.62) rotate(-90)" font-size="20.0">Coverage</text><text x="0" y="0" transform="translate(1011.97,321.89) rotate(-90)" font-size="19.8">Relative coverage increase</text><text x="0" y="0" transform="translate(771.40,347.05) scale(1.0,1)" font-size="20.0" fill="#000">Position</text><text x="0" y="0" transform="translate(25.72,361.83) scale(1.0,1)" font-size="20.7" fill="#000">1000-3</text><text x="0" y="0" transform="translate(108.09,387.48) scale(1.0,1)" font-size="20.0" fill="#000">2000</text><text x="0" y="0" transform="translate(108.09,446.00) scale(1.0,1)" font-size="20.0" fill="#000">1500</text><text x="0" y="0" transform="translate(108.09,504.51) scale(1.0,1)" font-size="20.0" fill="#000">1000</text><text x="0" y="0" transform="translate(119.21,563.02) scale(1.0,1)" font-size="20.0" fill="#000">500</text><text x="0" y="0" transform="translate(141.46,621.53) scale(1.0,1)" font-size="20.0" fill="#000">0</text><text x="0" y="0" transform="translate(469.23,389.68) scale(1.0,1)" font-size="20.0" fill="#000">8</text><text x="0" y="0" transform="translate(469.08,448.20) scale(1.0,1)" font-size="20.0" fill="#000">6</text><text x="0" y="0" transform="translate(469.64,506.70) scale(1.0,1)" font-size="20.0" fill="#000">4</text><text x="0" y="0" transform="translate(469.09,565.32) scale(1.0,1)" font-size="20.0" fill="#000">2</text><text x="0" y="0" transform="translate(469.32,623.73) scale(1.0,1)" font-size="20.0" fill="#000">0</text><text x="0" y="0" transform="translate(84.46,542.32) rotate(-90)" font-size="20.0">Coverage</text><text x="0" y="0" transform="translate(522.92,618.09) rotate(-90)" font-size="19.8">Relative coverage increase</text><text x="0" y="0" transform="translate(276.70,642.65) scale(1.0,1)" font-size="20.0" fill="#000">Position</text><text x="0" y="0" transform="translate(527.72,362.03) scale(1.0,1)" font-size="20.7" fill="#000">1000-4</text><text x="0" y="0" transform="translate(594.37,390.48) scale(1.0,1)" font-size="20.0" fill="#000">16000</text><text x="0" y="0" transform="translate(594.37,448.93) scale(1.0,1)" font-size="20.0" fill="#000">12000</text><text x="0" y="0" transform="translate(605.49,507.38) scale(1.0,1)" font-size="20.0" fill="#000">8000</text><text x="0" y="0" transform="translate(605.49,565.83) scale(1.0,1)" font-size="20.0" fill="#000">4000</text><text x="0" y="0" transform="translate(638.86,624.28) scale(1.0,1)" font-size="20.0" fill="#000">0</text><text x="0" y="0" transform="translate(966.88,391.58) scale(1.0,1)" font-size="20.0" fill="#000">60</text><text x="0" y="0" transform="translate(967.44,449.93) scale(1.0,1)" font-size="20.0" fill="#000">45</text><text x="0" y="0" transform="translate(967.14,508.48) scale(1.0,1)" font-size="20.0" fill="#000">30</text><text x="0" y="0" transform="translate(966.38,566.83) scale(1.0,1)" font-size="20.0" fill="#000">15</text><text x="0" y="0" transform="translate(967.12,625.38) scale(1.0,1)" font-size="20.0" fill="#000">0</text><text x="0" y="0" transform="translate(588.16,542.42) rotate(-90)" font-size="20.0">Coverage</text><text x="0" y="0" transform="translate(1012.87,618.09) rotate(-90)" font-size="19.8">Relative coverage increase</text><text x="0" y="0" transform="translate(771.40,642.65) scale(1.0,1)" font-size="20.0" fill="#000">Position</text><text x="0" y="0" transform="translate(26.32,658.68) scale(1.0,1)" font-size="20.7" fill="#000">1000-5</text><text x="0" y="0" transform="translate(97.17,682.48) scale(1.0,1)" font-size="20.0" fill="#000">24000</text><text x="0" y="0" transform="translate(97.17,741.01) scale(1.0,1)" font-size="20.0" fill="#000">18000</text><text x="0" y="0" transform="translate(97.17,799.53) scale(1.0,1)" font-size="20.0" fill="#000">12000</text><text x="0" y="0" transform="translate(108.29,858.06) scale(1.0,1)" font-size="20.0" fill="#000">6000</text><text x="0" y="0" transform="translate(141.66,916.58) scale(1.0,1)" font-size="20.0" fill="#000">0</text><text x="0" y="0" transform="translate(469.34,681.48) scale(1.0,1)" font-size="20.0" fill="#000">32</text><text x="0" y="0" transform="translate(469.09,740.11) scale(1.0,1)" font-size="20.0" fill="#000">24</text><text x="0" y="0" transform="translate(468.58,798.53) scale(1.0,1)" font-size="20.0" fill="#000">16</text><text x="0" y="0" transform="translate(469.23,857.06) scale(1.0,1)" font-size="20.0" fill="#000">8</text><text x="0" y="0" transform="translate(469.32,915.58) scale(1.0,1)" font-size="20.0" fill="#000">0</text><text x="0" y="0" transform="translate(83.86,837.02) rotate(-90)" font-size="20.0">Coverage</text><text x="0" y="0" transform="translate(523.57,912.99) rotate(-90)" font-size="19.8">Relative coverage increase</text><text x="0" y="0" transform="translate(276.70,940.35) scale(1.0,1)" font-size="20.0" fill="#000">Position</text><text x="0" y="0" transform="translate(100.93,985.88) scale(1.0,1)" font-size="24.0" fill="#000">2</text><text x="0" y="0" transform="translate(99.50,1060.36) scale(1.0,1)" font-size="24.0" fill="#000">1</text><text x="0" y="0" transform="translate(100.68,1137.11) scale(1.0,1)" font-size="24.0" fill="#000">0</text><text x="0" y="0" transform="translate(90.15,1066.83) rotate(-90)" font-size="23.5">bit</text><text x="0" y="0" transform="translate(149.20,1153.54) scale(1.0,1)" font-size="24.0" fill="#000">-5</text><text x="0" y="0" transform="translate(205.30,1153.66) scale(1.0,1)" font-size="24.0" fill="#000">-4</text><text x="0" y="0" transform="translate(269.17,1153.66) scale(1.0,1)" font-size="24.0" fill="#000">-3</text><text x="0" y="0" transform="translate(332.20,1153.78) scale(1.0,1)" font-size="24.0" fill="#000">-2</text><text x="0" y="0" transform="translate(387.48,1153.66) scale(1.0,1)" font-size="24.0" fill="#000">-1</text><text x="0" y="0" transform="translate(453.23,1153.66) scale(1.0,1)" font-size="24.0" fill="#000">0</text><text x="0" y="0" transform="translate(512.40,1153.66) scale(1.0,1)" font-size="24.0" fill="#000">1</text><text x="0" y="0" transform="translate(574.38,1153.78) scale(1.0,1)" font-size="24.0" fill="#000">2</text><text x="0" y="0" transform="translate(632.65,1153.66) scale(1.0,1)" font-size="24.0" fill="#000">3</text><text x="0" y="0" transform="translate(695.40,1153.66) scale(1.0,1)" font-size="24.0" fill="#000">4</text><text x="0" y="0" transform="translate(756.60,1153.54) scale(1.0,1)" font-size="24.0" fill="#000">5</text><text x="0" y="0" transform="translate(107.16,1166.77) scale(1.0,1)" font-size="21.0" fill="#000">5<tspan dx="1.6">′</tspan></text><text x="0" y="0" transform="translate(786.90,1166.78) scale(1.0,1)" font-size="21.0" fill="#000">3<tspan dx="1.6">′</tspan></text><text x="0" y="0" transform="translate(424.50,1182.25) scale(1.0,1)" font-size="20.0" fill="#000">Position</text>
</svg>
</body></html>
